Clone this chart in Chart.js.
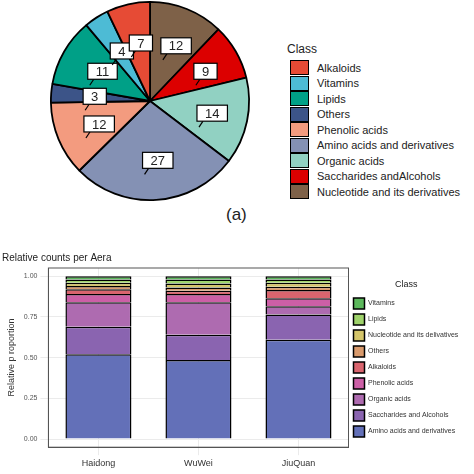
<!DOCTYPE html>
<html><head><meta charset="utf-8">
<script src="https://cdn.jsdelivr.net/npm/chart.js@4"></script>
<style>
body{margin:0;background:#fff;font-family:"Liberation Sans",Arial,sans-serif;}
#wrap{position:relative;width:474px;height:474px;}
#pie{position:absolute;left:0;top:0;}
#bar{position:absolute;left:0;top:248px;}
#leg{position:absolute;left:290px;top:42px;font-size:11px;color:#222;}
#leg .t{font-size:12px;margin-bottom:4px;margin-left:-3px}
#leg .r{display:flex;align-items:center;height:15.5px;}
#leg .s{width:17px;height:13px;border:1px solid #000;margin-right:8px;}
#a{position:absolute;left:226px;top:205px;font-size:17px;color:#222;}
</style></head><body>
<div id="wrap">
<canvas id="pie" width="280" height="205"></canvas>
<div id="leg"></div>
<div id="a">(a)</div>
<canvas id="bar" width="474" height="226"></canvas>
</div>
<script>
// Pie data (clockwise from top)
const pieLabels=["Nucleotide and its derivatives","Saccharides andAlcohols","Organic acids","Amino acids and derivatives","Phenolic acids","Others","Lipids","Vitamins","Alkaloids"];
const pieValues=[12,9,14,27,12,3,11,4,7];
const pieColors=["#7e6148","#dc0000","#91d1c2","#8491b4","#f39b7f","#3c5488","#00a087","#4dbbd5","#e64b35"];
const legendOrder=["Alkaloids","Vitamins","Lipids","Others","Phenolic acids","Amino acids and derivatives","Organic acids","Saccharides andAlcohols","Nucleotide and its derivatives"];

// Bar data
const areas=["Haidong","WuWei","JiuQuan"];
const barClasses=["Amino acids and derivatives","Saccharides and Alcohols","Organic acids","Phenolic acids","Alkaloids","Others","Nucleotide and its delivatives","Lipids","Vitamins"];
const barColors=["#6370b8","#8a64b0","#ae6bb0","#cc5fa6","#d9646e","#d99a6c","#d4c56a","#9fd36b","#5cb85c"];
const barValues=[
 [0.52,0.485,0.61],
 [0.17,0.155,0.155],
 [0.15,0.20,0.05],
 [0.05,0.05,0.05],
 [0.03,0.02,0.05],
 [0.02,0.02,0.02],
 [0.02,0.025,0.025],
 [0.02,0.025,0.02],
 [0.02,0.02,0.02]
];
const yTicks=[0,0.25,0.5,0.75,1];

const leg=document.getElementById('leg');
let h='<div class="t">Class</div>';
legendOrder.forEach(n=>{const c=pieColors[pieLabels.indexOf(n)];h+='<div class="r"><div class="s" style="background:'+c+'"></div>'+n+'</div>';});
leg.innerHTML=h;

const calloutPlugin={id:'callout',afterDatasetsDraw(chart){
 const ctx=chart.ctx;
 chart.getDatasetMeta(0).data.forEach((arc,i)=>{
  const mid=(arc.startAngle+arc.endAngle)/2;
  const r=arc.outerRadius*0.6;
  const cx=arc.x+Math.cos(mid)*r, cy=arc.y+Math.sin(mid)*r;
  const txt=String(pieValues[i]);
  ctx.save();
  ctx.font='13px "Liberation Sans",Arial';
  const w=ctx.measureText(txt).width+16, hh=16;
  const bx=cx-w/2+4, by=cy-hh/2;
  ctx.strokeStyle='#000';ctx.lineWidth=1.2;
  ctx.beginPath();ctx.moveTo(bx+2,by+hh+6);ctx.lineTo(bx+6,by+hh);ctx.stroke();
  ctx.fillStyle='#fff';ctx.fillRect(bx,by,w,hh);ctx.strokeRect(bx,by,w,hh);
  ctx.fillStyle='#222';ctx.textAlign='center';ctx.textBaseline='middle';
  ctx.fillText(txt,bx+w/2,by+hh/2+1);
  ctx.restore();
 });
}};

const panelBorder={id:'panelBorder',afterDraw(chart){
 const a=chart.chartArea,ctx=chart.ctx;
 ctx.save();ctx.strokeStyle='#555';ctx.lineWidth=1;
 ctx.strokeRect(a.left,a.top,a.right-a.left,a.bottom-a.top);ctx.restore();
}};

new Chart(document.getElementById('pie'),{type:'pie',
 data:{labels:pieLabels,datasets:[{data:pieValues,backgroundColor:pieColors,borderColor:'#000',borderWidth:1.8}]},
 options:{responsive:false,animation:false,layout:{padding:{left:50,right:30,top:1,bottom:4}},
  plugins:{legend:{display:false},tooltip:{enabled:false}}},
 plugins:[calloutPlugin]});

new Chart(document.getElementById('bar'),{type:'bar',
 data:{labels:areas,datasets:barClasses.map((n,i)=>({label:n,data:barValues[i],backgroundColor:barColors[i],borderColor:'#000',borderWidth:1.5,barPercentage:0.66,categoryPercentage:1}))},
 options:{responsive:false,animation:false,layout:{padding:{left:2,right:10,top:2,bottom:2}},
  scales:{
   x:{stacked:true,grid:{color:'#ebebeb',offset:false},border:{color:'#555'},ticks:{color:'#333',font:{size:9}}},
   y:{stacked:true,min:-0.05,max:1.05,afterBuildTicks:s=>{s.ticks=yTicks.map(v=>({value:v}));},
      grid:{color:'#ebebeb'},border:{color:'#555'},
      ticks:{color:'#555',font:{size:7},callback:v=>v.toFixed(2)},
      title:{display:true,text:'Relative p roportion',color:'#333',font:{size:9}}}},
  plugins:{tooltip:{enabled:false},
   title:{display:true,text:'Relative counts per Aera',align:'start',color:'#222',font:{size:10,weight:'normal'},padding:{top:2,bottom:4}},
   legend:{position:'right',reverse:true,title:{display:true,text:'Class',color:'#222',font:{size:9},padding:{top:0,bottom:2}},
    labels:{boxWidth:11,boxHeight:11,font:{size:7},color:'#333',padding:5}}}},
 plugins:[panelBorder]});
</script></body></html>
